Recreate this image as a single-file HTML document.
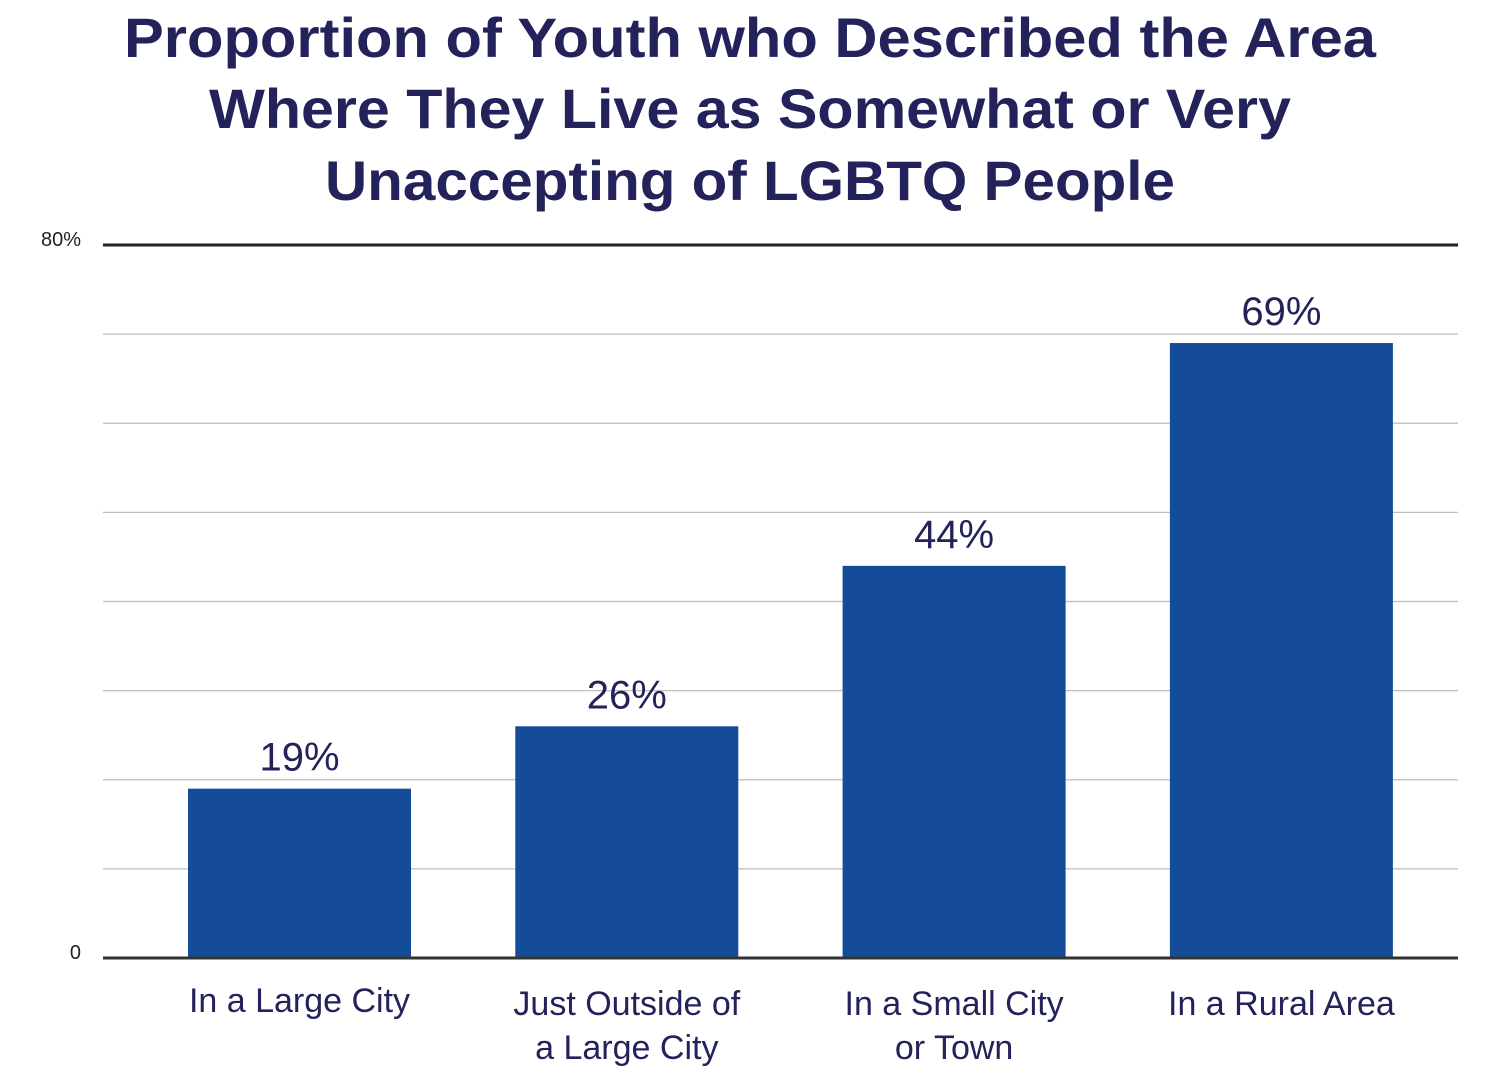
<!DOCTYPE html>
<html><head><meta charset="utf-8"><style>
html,body{margin:0;padding:0;background:#fff;}
svg{display:block;font-family:"Liberation Sans",sans-serif;}
</style></head><body>
<svg id="chart" width="1500" height="1080" viewBox="0 0 1500 1080" xmlns="http://www.w3.org/2000/svg">
<g fill="#23225a" font-weight="bold" font-size="56" text-anchor="middle">
<text x="750" y="57" textLength="1252" lengthAdjust="spacingAndGlyphs">Proportion of Youth who Described the Area</text>
<text x="750" y="128" textLength="1082" lengthAdjust="spacingAndGlyphs">Where They Live as Somewhat or Very</text>
<text x="750" y="200" textLength="850" lengthAdjust="spacingAndGlyphs">Unaccepting of LGBTQ People</text>
</g>
<g id="grid"></g><g id="bars"></g><g id="labels"></g>
</svg>
<script>
const categories=[["In a Large City"],["Just Outside of","a Large City"],["In a Small City","or Town"],["In a Rural Area"]];
const values=[19,26,44,69];
const valueLabels=["19%","26%","44%","69%"];
const tickLabels=["0","80%"];
const yMax=80;
const NS="http://www.w3.org/2000/svg";
const plotLeft=103,plotRight=1458,plotTop=245,plotBottom=958;
const yS=v=>plotBottom-(v/yMax)*(plotBottom-plotTop);
const xc=i=>299.5+i*327.3;
const barW=223;
function mk(tag,attrs,parent,txt){const e=document.createElementNS(NS,tag);for(const k in attrs)e.setAttribute(k,attrs[k]);if(txt!==undefined)e.textContent=txt;parent.appendChild(e);return e;}
const gridG=document.getElementById('grid'),barsG=document.getElementById('bars'),labelsG=document.getElementById('labels');
for(let v=10;v<yMax;v+=10){
 const l=mk('line',{x1:plotLeft,x2:plotRight,y1:yS(v),y2:yS(v),stroke:'#bdbdbd','stroke-width':1.3},gridG);
 
 
}
const tl=mk('line',{x1:plotLeft,x2:plotRight,y1:yS(yMax),y2:yS(yMax),stroke:'#222','stroke-width':3},gridG);


const t0=mk('text',{x:81,y:yS(0)+1,'font-size':20,fill:'#222','text-anchor':'end'},labelsG,tickLabels[0]);


const t1=mk('text',{x:81,y:yS(yMax)+1,'font-size':20,fill:'#222','text-anchor':'end'},labelsG,tickLabels[1]);


values.forEach((v,i)=>{
 const r=mk('rect',{x:xc(i)-barW/2,y:yS(v),width:barW,height:yS(0)-yS(v),fill:'#154c9a'},barsG);
 
 
 const t=mk('text',{x:xc(i),y:yS(v)-18,'font-size':40,fill:'#23225a','text-anchor':'middle'},labelsG,valueLabels[i]);
 
 
 categories[i].forEach((ln,j)=>{
  const c=mk('text',{x:xc(i),y:(i===0?1012:1015)+j*44,'font-size':34,fill:'#23225a','text-anchor':'middle'},labelsG,ln);
  
  
 });
});
const bl=mk('line',{x1:plotLeft,x2:plotRight,y1:yS(0),y2:yS(0),stroke:'#333','stroke-width':3},barsG);


</script>
</body></html>
